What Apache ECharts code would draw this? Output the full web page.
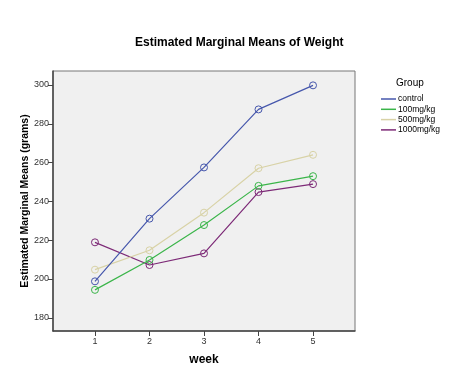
<!DOCTYPE html>
<html>
<head>
<meta charset="utf-8">
<script src="https://cdn.jsdelivr.net/npm/echarts@6/dist/echarts.min.js"></script>
<style>html,body{margin:0;padding:0;background:#fff}#c{width:474px;height:371px}</style>
</head>
<body>
<div id="c"></div>
<script>
const weeks = [1, 2, 3, 4, 5];
const groups = ['control', '100mg/kg', '500mg/kg', '1000mg/kg'];
const control = [198.8, 231.1, 257.5, 287.4, 299.8];
const mg100 = [194.4, 209.8, 227.8, 248.0, 253.0];
const mg500 = [204.8, 214.8, 234.2, 257.1, 264.0];
const mg1000 = [218.9, 207.2, 213.2, 244.8, 248.9];
const yTicks = [180, 200, 220, 240, 260, 280, 300];
const colors = ['#4657ac', '#3bb54a', '#d8d2a6', '#7d2a77'];

const seriesValues = [control, mg100, mg500, mg1000];
const chart = echarts.init(document.getElementById('c'), null, {renderer: 'canvas'});
const font = 'Liberation Sans, Arial, sans-serif';
chart.setOption({
  animation: false,
  backgroundColor: '#ffffff',
  title: [
    {text: 'Estimated Marginal Means of Weight', left: 135, top: 37, padding: 0,
     textStyle: {fontFamily: font, fontSize: 12, fontWeight: 'bold', color: '#000'}},
    {text: 'Group', left: 396, top: 78, padding: 0,
     textStyle: {fontFamily: font, fontSize: 10, fontWeight: 'normal', color: '#000'}}
  ],
  legend: {
    orient: 'vertical', left: 381, top: 94, padding: 0,
    icon: 'rect', itemWidth: 15, itemHeight: 1.5, itemGap: 0.3,
    data: groups.map((g, i) => ({name: g, itemStyle: {color: colors[i], borderWidth: 0}})),
    textStyle: {fontFamily: font, fontSize: 8.5, color: '#000', lineHeight: 10, padding: [0, 0, 0, -3]}
  },
  grid: {
    left: 53, top: 71, right: 119, bottom: 40,
    show: true, backgroundColor: '#f0f0f0', borderColor: '#777', borderWidth: 1
  },
  xAxis: {
    type: 'value', min: 0.23, max: 5.77,
    name: 'week', nameLocation: 'middle', nameGap: 23, nameMoveOverlap: false,
    nameTextStyle: {fontFamily: font, fontSize: 12, fontWeight: 'bold', color: '#000'},
    axisLine: {show: true, lineStyle: {color: '#444', width: 1.5}},
    axisTick: {show: true, length: 5, customValues: weeks, lineStyle: {color: '#444'}},
    axisLabel: {customValues: weeks, fontFamily: font, fontSize: 9, color: '#333', margin: 6},
    splitLine: {show: false}
  },
  yAxis: {
    type: 'value', min: 173.2, max: 307.2,
    name: 'Estimated Marginal Means (grams)', nameLocation: 'middle', nameGap: 22, nameRotate: 90,
    nameMoveOverlap: false,
    nameTextStyle: {fontFamily: font, fontSize: 10.5, fontWeight: 'bold', color: '#000'},
    axisLine: {show: true, lineStyle: {color: '#444', width: 1.5}},
    axisTick: {show: true, length: 5, customValues: yTicks, lineStyle: {color: '#444'}},
    axisLabel: {customValues: yTicks, fontFamily: font, fontSize: 9, color: '#333', margin: 4},
    splitLine: {show: false}
  },
  series: groups.map((g, i) => ({
    name: g, type: 'line',
    data: weeks.map((w, j) => [w, seriesValues[i][j]]),
    symbol: 'circle', symbolSize: 7,
    lineStyle: {color: colors[i], width: 1.2},
    itemStyle: {color: 'rgba(0,0,0,0)', borderColor: colors[i], borderWidth: 1},
    z: 10 - i
  }))
});
</script>
</body>
</html>
